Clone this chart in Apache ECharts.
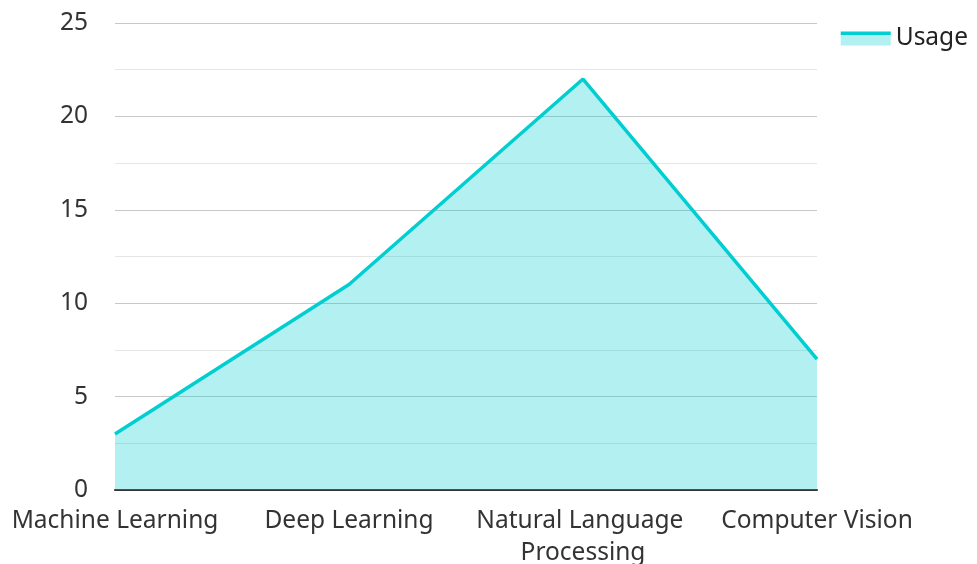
<!DOCTYPE html>
<html><head><meta charset="utf-8">
<script src="https://cdn.jsdelivr.net/npm/echarts@6/dist/echarts.min.js"></script>
<style>html,body{margin:0;padding:0;background:#fff}#c{width:977px;height:564px}</style>
</head><body><div id="c"></div>
<script>
var categories = ["Machine Learning", "Deep Learning", "Natural Language Processing", "Computer Vision"];
var usage = [3, 11, 22, 7];
var seriesName = "Usage";

var chart = echarts.init(document.getElementById('c'), null, {renderer: 'canvas'});
var font = '"Noto Sans", "Open Sans", sans-serif';
var legendFill = new echarts.graphic.LinearGradient(0, 0, 0, 1, [
  {offset: 0, color: '#00CED1'}, {offset: 0.27, color: '#00CED1'},
  {offset: 0.27, color: '#b2f0f1'}, {offset: 1, color: '#b2f0f1'}
]);
chart.setOption({
  animation: false,
  textStyle: {fontFamily: font},
  legend: {
    data: [{name: seriesName, icon: 'rect', itemStyle: {color: legendFill, borderWidth: 0}}],
    right: 4, top: 21, itemWidth: 50, itemHeight: 14, itemGap: 9,
    textStyle: {fontSize: 24.5, color: '#222', fontFamily: font}
  },
  grid: {left: 115, right: 160, top: 23, bottom: 74, containLabel: false, outerBoundsMode: 'none'},
  xAxis: {
    type: 'category', data: categories, boundaryGap: false,
    axisLine: {lineStyle: {color: '#333', width: 2}},
    axisTick: {show: false},
    axisLabel: {fontSize: 24.5, color: '#333', margin: 15, interval: 0, width: 232, overflow: 'break', lineHeight: 32, fontFamily: font, hideOverlap: false}
  },
  yAxis: {
    type: 'value', min: 0, max: 25, interval: 5,
    axisLine: {show: false}, axisTick: {show: false},
    axisLabel: {fontSize: 24.5, color: '#333', margin: 27, fontFamily: font},
    splitLine: {lineStyle: {color: '#c8c8c8', width: 1}},
    minorTick: {show: false, splitNumber: 2},
    minorSplitLine: {show: true, lineStyle: {color: '#e6e6e6', width: 1}}
  },
  series: [{
    name: seriesName, type: 'line', data: usage, showSymbol: false, symbol: 'none',
    lineStyle: {color: '#00CED1', width: 3.5},
    itemStyle: {color: '#00CED1'},
    areaStyle: {color: '#00CED1', opacity: 0.3}
  }]
});
</script></body></html>
